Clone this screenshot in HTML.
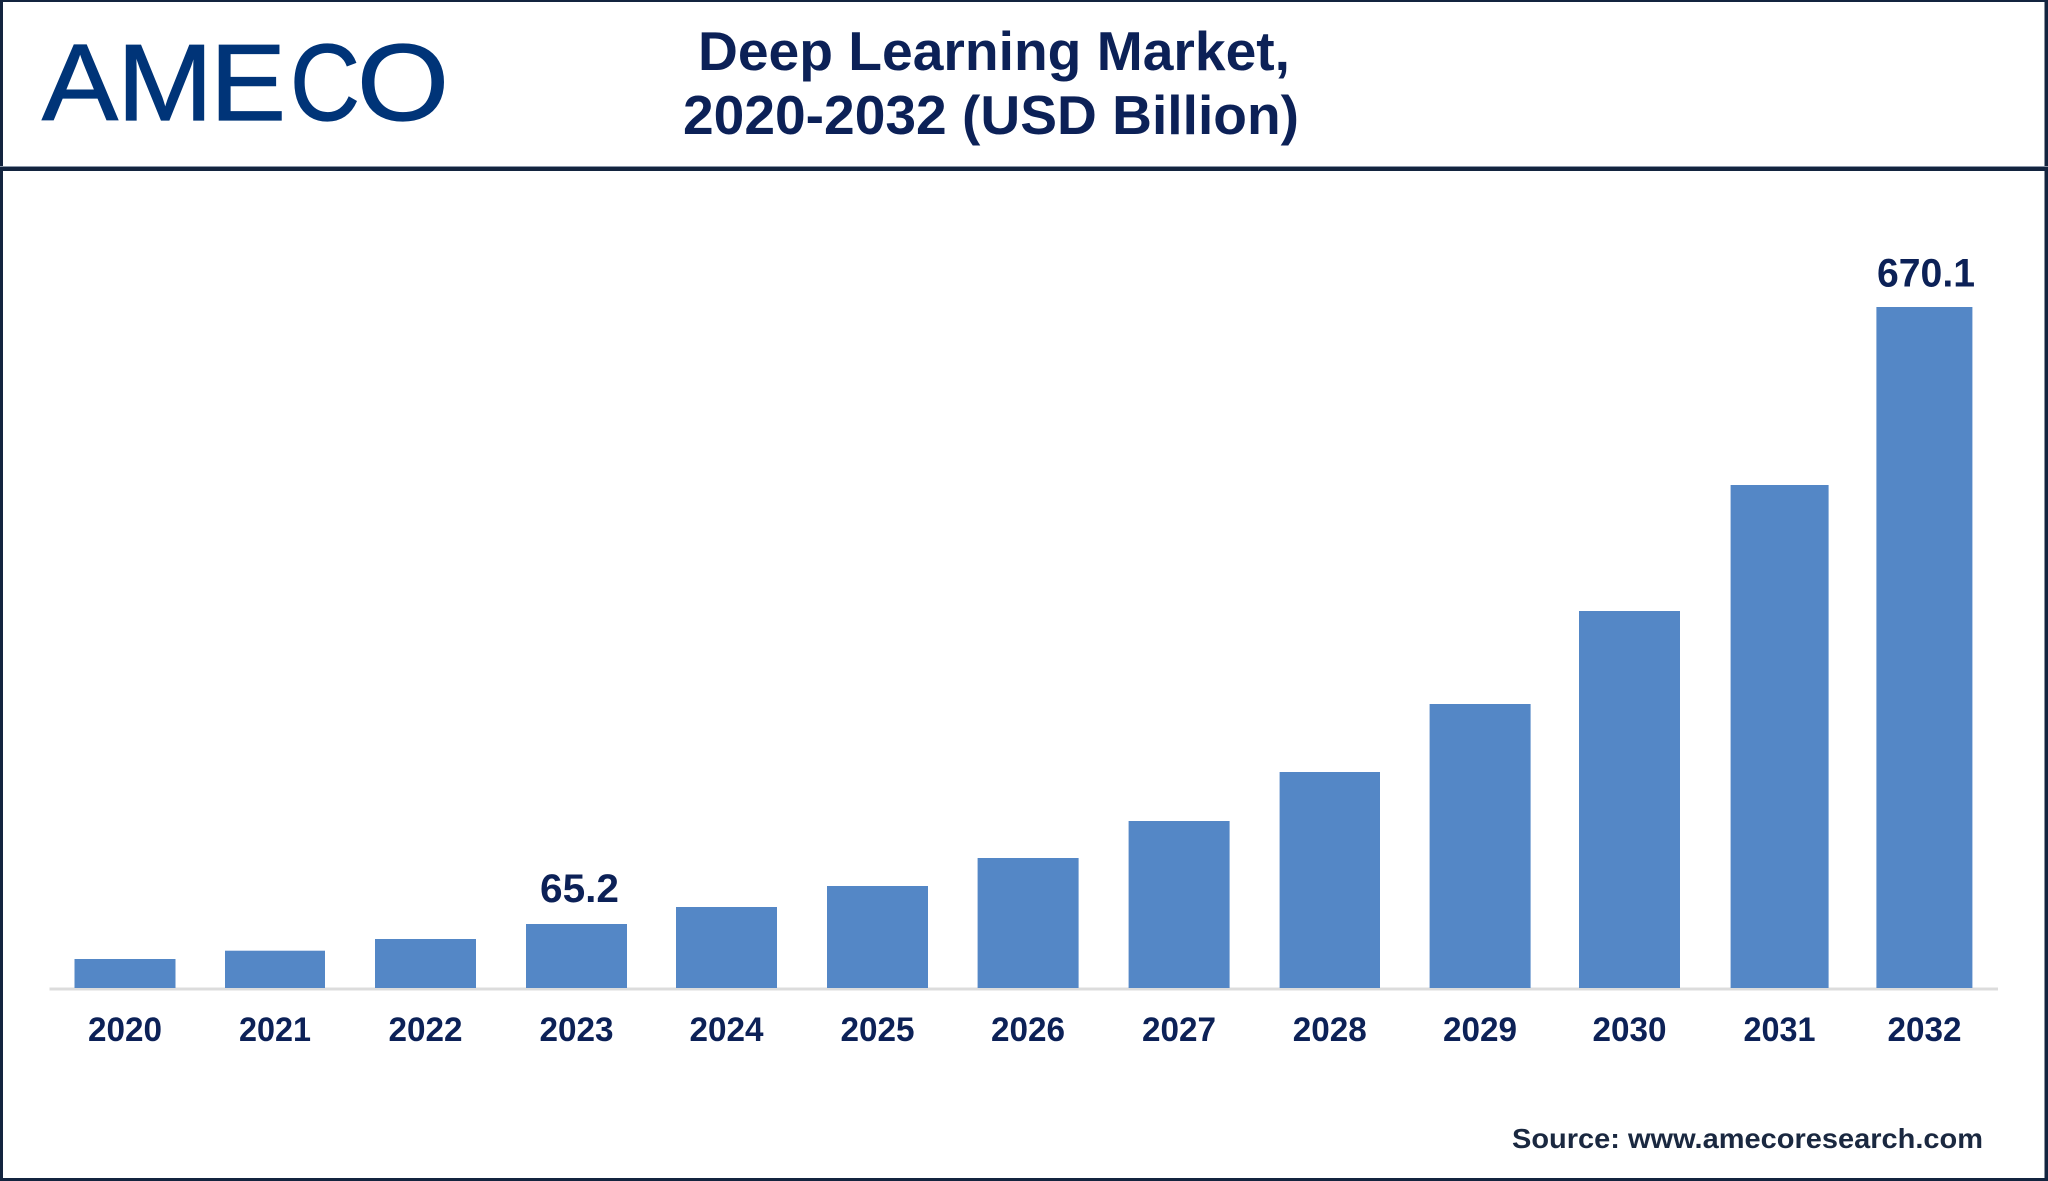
<!DOCTYPE html>
<html>
<head>
<meta charset="utf-8">
<style>
  html, body { margin: 0; padding: 0; background: #ffffff; }
  body { width: 2048px; height: 1181px; overflow: hidden; }
  svg { display: block; }
  .yr { font-family: "Liberation Sans", Arial, sans-serif; font-weight: bold; font-size: 34px; fill: #0c2157; }
  .val { font-family: "Liberation Sans", Arial, sans-serif; font-weight: bold; font-size: 40px; fill: #0c2157; }
  .ttl { font-family: "Liberation Sans", Arial, sans-serif; font-weight: bold; font-size: 55px; fill: #0c2157; }
  .logo { font-family: "Liberation Sans", Arial, sans-serif; font-size: 109px; fill: #003478; stroke: #003478; stroke-width: 1.2px; }
</style>
</head>
<body>
<svg width="2048" height="1181" viewBox="0 0 2048 1181" xmlns="http://www.w3.org/2000/svg">
  <rect x="0" y="0" width="2048" height="1181" fill="#ffffff"/>

  <!-- outer border -->
  <rect x="0" y="0" width="2048" height="2" fill="#13243f"/>
  <rect x="0" y="0" width="3" height="1181" fill="#13243f"/>
  <rect x="2044.5" y="0" width="3.5" height="1181" fill="#13243f"/>
  <rect x="0" y="1178" width="2048" height="3" fill="#13243f"/>

  <!-- header separator -->
  <rect x="0" y="166" width="2048" height="1" fill="#8a96a8"/>
  <rect x="0" y="167" width="2048" height="4" fill="#13243f"/>

  <!-- logo -->
  <text class="logo" x="42" y="120" textLength="76" lengthAdjust="spacingAndGlyphs">A</text>
  <text class="logo" x="117" y="120" textLength="96" lengthAdjust="spacingAndGlyphs">M</text>
  <text class="logo" x="210" y="120" textLength="76" lengthAdjust="spacingAndGlyphs">E</text>
  <text class="logo" x="290" y="120" textLength="70" lengthAdjust="spacingAndGlyphs">C</text>
  <text class="logo" x="357" y="120" textLength="92" lengthAdjust="spacingAndGlyphs">O</text>

  <!-- title -->
  <text class="ttl" x="994" y="70" text-anchor="middle" textLength="592" lengthAdjust="spacingAndGlyphs">Deep Learning Market,</text>
  <text class="ttl" x="991" y="134" text-anchor="middle" textLength="616" lengthAdjust="spacingAndGlyphs">2020-2032 (USD Billion)</text>

  <!-- axis line -->
  <rect x="49.5" y="987.5" width="1948.5" height="3" fill="#dcdcdc"/>

  <!-- bars -->
  <g fill="#5487c6">
    <rect x="74.5" y="959" width="101" height="29"/>
    <rect x="225" y="950.7" width="100" height="37.3"/>
    <rect x="375" y="939" width="101" height="49"/>
    <rect x="526" y="924" width="101" height="64"/>
    <rect x="676" y="907" width="101" height="81"/>
    <rect x="827" y="886" width="101" height="102"/>
    <rect x="977.6" y="858" width="101" height="130"/>
    <rect x="1128.6" y="821" width="101" height="167"/>
    <rect x="1279.6" y="772" width="100.4" height="216"/>
    <rect x="1429.6" y="704" width="101" height="284"/>
    <rect x="1579" y="611" width="101" height="377"/>
    <rect x="1730.6" y="485" width="98" height="503"/>
    <rect x="1876.4" y="307" width="96" height="681"/>
  </g>

  <!-- value labels -->
  <text class="val" x="579.5" y="902" text-anchor="middle" textLength="79" lengthAdjust="spacingAndGlyphs">65.2</text>
  <text class="val" x="1926" y="286.5" text-anchor="middle" textLength="98" lengthAdjust="spacingAndGlyphs">670.1</text>

  <!-- year labels -->
  <g class="yr" text-anchor="middle">
    <text x="125" y="1041" textLength="74" lengthAdjust="spacingAndGlyphs">2020</text>
    <text x="275" y="1041" textLength="72" lengthAdjust="spacingAndGlyphs">2021</text>
    <text x="425.5" y="1041" textLength="74" lengthAdjust="spacingAndGlyphs">2022</text>
    <text x="576.5" y="1041" textLength="74" lengthAdjust="spacingAndGlyphs">2023</text>
    <text x="726.5" y="1041" textLength="74" lengthAdjust="spacingAndGlyphs">2024</text>
    <text x="877.5" y="1041" textLength="74" lengthAdjust="spacingAndGlyphs">2025</text>
    <text x="1028" y="1041" textLength="74" lengthAdjust="spacingAndGlyphs">2026</text>
    <text x="1179" y="1041" textLength="74" lengthAdjust="spacingAndGlyphs">2027</text>
    <text x="1329.8" y="1041" textLength="74" lengthAdjust="spacingAndGlyphs">2028</text>
    <text x="1480" y="1041" textLength="74" lengthAdjust="spacingAndGlyphs">2029</text>
    <text x="1629.5" y="1041" textLength="74" lengthAdjust="spacingAndGlyphs">2030</text>
    <text x="1779.5" y="1041" textLength="72" lengthAdjust="spacingAndGlyphs">2031</text>
    <text x="1924.5" y="1041" textLength="74" lengthAdjust="spacingAndGlyphs">2032</text>
  </g>

  <!-- source -->
  <text x="1512" y="1148" font-family="'Liberation Sans', Arial, sans-serif" font-weight="bold" font-size="28" fill="#1a2840" textLength="471" lengthAdjust="spacingAndGlyphs">Source: www.amecoresearch.com</text>
</svg>
</body>
</html>
